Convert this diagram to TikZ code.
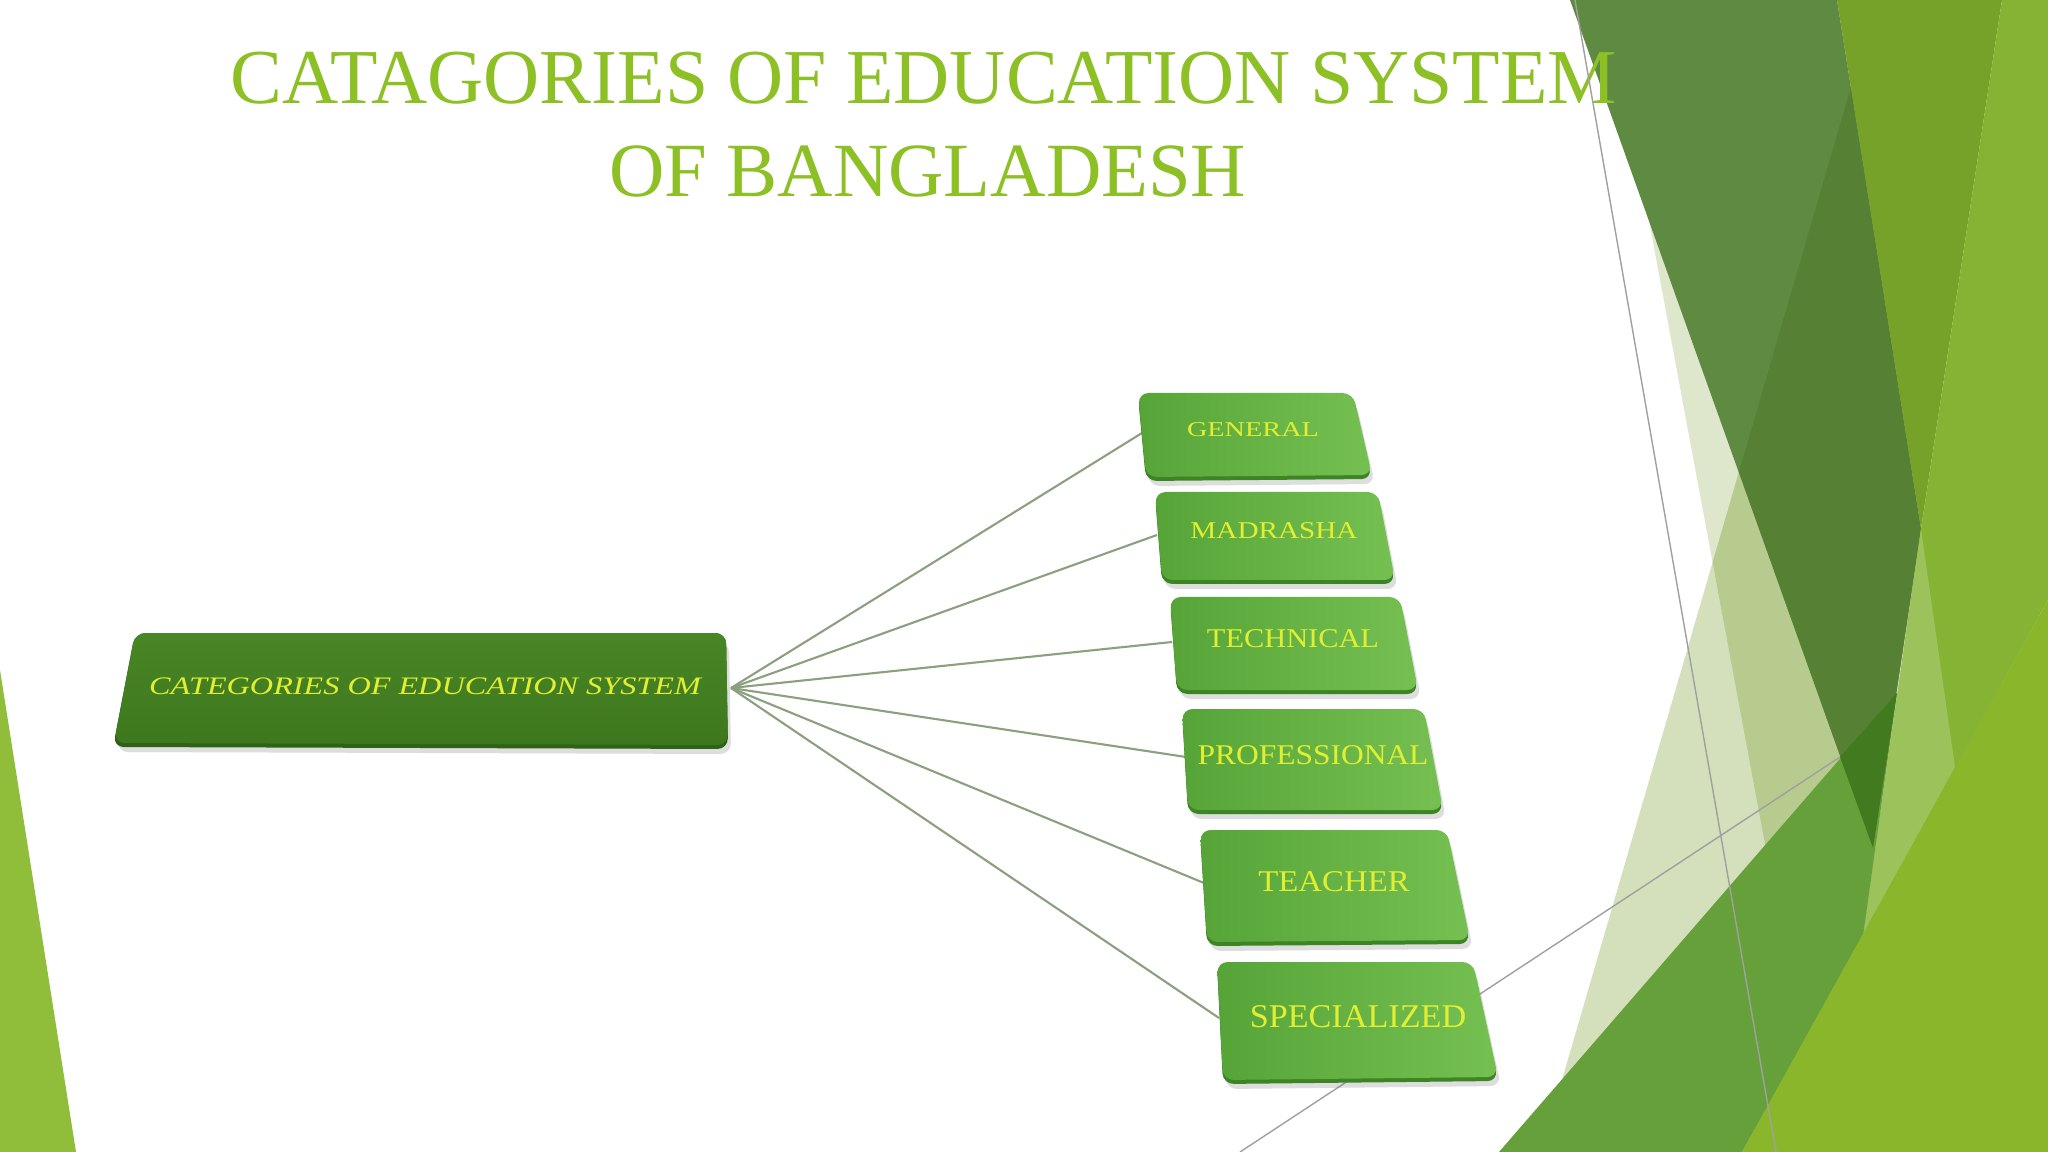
\documentclass[tikz,border=0pt]{standalone}
\usepackage{fontspec}
\setmainfont{Liberation Serif}
\usepackage{graphicx}
\definecolor{titleg}{RGB}{140,192,36}
\definecolor{leftg}{RGB}{145,190,58}
\definecolor{dq}{RGB}{94,138,66}
\definecolor{dqb}{RGB}{86,128,52}
\definecolor{olv}{RGB}{118,162,42}
\definecolor{rlg}{RGB}{134,179,52}
\definecolor{plg}{RGB}{155,194,91}
\definecolor{band}{RGB}{102,160,58}
\definecolor{darkest}{RGB}{66,123,31}
\definecolor{bright}{RGB}{138,182,44}
\definecolor{paleA}{RGB}{222,230,204}
\definecolor{paleB}{RGB}{212,224,188}
\definecolor{midsage}{RGB}{182,203,141}
\definecolor{deco}{RGB}{160,160,160}
\definecolor{conn}{RGB}{140,160,128}
\definecolor{txty}{RGB}{226,238,50}
\definecolor{mainT}{RGB}{72,134,38}
\definecolor{mainB}{RGB}{62,120,30}
\definecolor{mainrim}{RGB}{46,98,22}
\definecolor{boxL}{RGB}{86,164,56}
\definecolor{boxR}{RGB}{118,192,82}
\definecolor{boxrim}{RGB}{60,132,36}
\definecolor{shadowc}{RGB}{120,120,120}
\newcommand\catbox[4]{%
  \fill[shadowc,opacity=0.25,rounded corners=3pt] ([shift={(3,9)}]#1) -- ([shift={(3,9)}]#2) -- ([shift={(3,9)}]#3) -- ([shift={(3,9)}]#4) -- cycle;
  \fill[boxrim,rounded corners=3pt] ([shift={(0,4)}]#1) -- ([shift={(0,4)}]#2) -- ([shift={(0,4)}]#3) -- ([shift={(0,4)}]#4) -- cycle;
  \shade[left color=boxL,right color=boxR,rounded corners=3pt] (#1) -- (#2) -- (#3) -- (#4) -- cycle;}
\newcommand\boxlabel[5]{%
  \node[inner sep=0pt,text=txty] (#1) at (#2) {\scalebox{#3}[1]{\fontsize{#4pt}{#4pt}\selectfont #5}};}
\begin{document}
\begin{tikzpicture}[x=0.01cm,y=-0.01cm,
  conline/.style={draw=conn,line width=0.6pt},
  decoline/.style={draw=deco,line width=0.4pt},
  titletext/.style={text=titleg,inner sep=0pt,anchor=base}]
\useasboundingbox (0,0) rectangle (2048,1152);
\fill[white] (0,0) rectangle (2048,1152);
% left decoration
\fill[leftg] (0,670) -- (76,1152) -- (0,1152) -- cycle;
% right decoration
\fill[paleA] (1608,0) -- (1880,0) -- (1880,1000) -- (1794,1000) -- cycle;
\fill[paleB] (1853,80) -- (2015,1152) -- (1541,1152) -- cycle;
\begin{scope}
 \clip (1608,0) -- (1880,0) -- (1880,1000) -- (1794,1000) -- cycle;
 \fill[midsage] (1853,80) -- (2015,1152) -- (1541,1152) -- cycle;
\end{scope}
\fill[dq] (1570,0) -- (1837,0) -- (1921,529) -- (1873,848) -- cycle;
\fill[dqb] (1851,87) -- (1921,529) -- (1873,848) -- (1739,472) -- cycle;
\fill[olv] (1837,0) -- (2002,0) -- (1921,529) -- cycle;
\fill[rlg] (2002,0) -- (2048,0) -- (2048,600) -- (1863,936) -- (1921,529) -- cycle;
\fill[plg] (1921,529) -- (1955,767) -- (1863,936) -- cycle;
\fill[band] (1499,1152) -- (1897,693) -- (1863,936) -- (1742,1152) -- cycle;
\fill[darkest] (1840,757) -- (1897,693) -- (1873,848) -- cycle;
\fill[bright] (2048,600) -- (2048,1152) -- (1742,1152) -- cycle;
% title
\node[titletext,font=\fontsize{22.1pt}{26pt}\selectfont] (t1) at (924,104) {CATAGORIES OF EDUCATION SYSTEM};
\node[titletext,font=\fontsize{21.8pt}{26pt}\selectfont] (t2) at (928,197) {OF BANGLADESH};
% thin grey lines
\coordinate (g1a) at (1575,0);
\coordinate (g1b) at (1776,1152);
\coordinate (g2a) at (1840,757);
\coordinate (g2b) at (1240,1152);
\draw[decoline] (g1a) -- (g1b);
\draw[decoline] (g2a) -- (g2b);
% connectors
\coordinate (hub) at (731,688);
\coordinate (inGen) at (1142,433);
\coordinate (inMad) at (1157,535);
\coordinate (inTec) at (1172,642);
\coordinate (inPro) at (1186,757);
\coordinate (inTea) at (1204,883);
\coordinate (inSpe) at (1219,1018);
\foreach \e in {inGen,inMad,inTec,inPro,inTea,inSpe} \draw[conline] (hub) -- (\e);
% main box
\fill[shadowc,opacity=0.25,rounded corners=3pt] (117,752) -- (138,642) -- (729,642) -- (731,754) -- cycle;
\fill[mainrim,rounded corners=3pt] (135,633) -- (726,633) -- (728,749) -- (113,747) -- cycle;
\shade[top color=mainT,bottom color=mainB,rounded corners=3pt] (135,633) -- (726,633) -- (728,745) -- (114,743) -- cycle;
\node[inner sep=0pt,text=txty] (tmain) at (425,686) {\scalebox{1.28}[1]{\fontsize{7.16pt}{8pt}\selectfont\itshape CATEGORIES OF EDUCATION SYSTEM}};
% category boxes
\catbox{1138,393}{1353,393}{1372,475}{1146,477}
\catbox{1155,492}{1378,492}{1395,580}{1162,580}
\catbox{1170,597}{1400,597}{1418,690}{1177,690}
\catbox{1182,709}{1424,709}{1443,810}{1188,810}
\catbox{1200,830}{1447,830}{1470,940}{1207,942}
\catbox{1217,962}{1473,962}{1498,1077}{1223,1080}
\boxlabel{tGen}{1253,430}{1.34}{6.0}{GENERAL}
\boxlabel{tMad}{1274,531}{1.21}{6.86}{MADRASHA}
\boxlabel{tTec}{1293,639}{1.12}{7.71}{TECHNICAL}
\boxlabel{tPro}{1313,755}{1.10}{8.14}{PROFESSIONAL}
\boxlabel{tTea}{1334,882}{1.09}{8.57}{TEACHER}
\boxlabel{tSpe}{1358,1017}{1.03}{9.43}{SPECIALIZED}
\end{tikzpicture}
\end{document}
